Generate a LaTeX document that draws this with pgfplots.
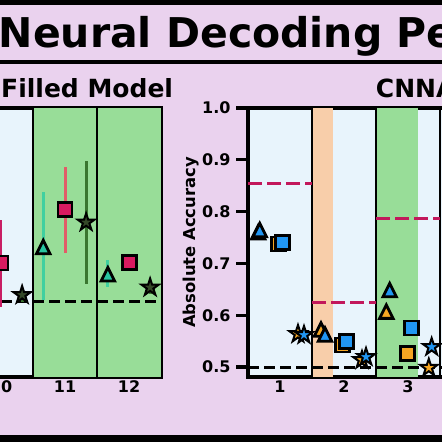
\documentclass[border=0pt]{standalone}
\usepackage{pgfplots}
\pgfplotsset{compat=1.18}
\usepackage{fontspec}
\setmainfont{DejaVu Sans}
\definecolor{lilac}{RGB}{234,210,238}
\definecolor{lblue}{RGB}{232,244,252}
\definecolor{bgreen}{RGB}{152,221,152}
\definecolor{borange}{RGB}{248,206,170}
\definecolor{mblue}{RGB}{33,150,243}
\definecolor{morange}{RGB}{245,166,35}
\definecolor{rdash}{RGB}{194,24,91}
\definecolor{mpink}{RGB}{216,27,96}
\definecolor{mteal}{RGB}{40,196,160}
\definecolor{eteal}{RGB}{64,208,160}
\definecolor{esalmon}{RGB}{226,92,104}
\definecolor{ecrimson}{RGB}{200,30,100}
\definecolor{egreen}{RGB}{58,118,48}
\definecolor{mstarc}{RGB}{52,72,40}

\pgfdeclareplotmark{mtri}{%
 \pgfpathmoveto{\pgfpoint{0pt}{\pgfplotmarksize}}%
 \pgfpathlineto{\pgfpoint{-\pgfplotmarksize}{-\pgfplotmarksize}}%
 \pgfpathlineto{\pgfpoint{\pgfplotmarksize}{-\pgfplotmarksize}}%
 \pgfpathclose\pgfusepathqfillstroke}
\pgfdeclareplotmark{mstar}{%
 \pgfpathmoveto{\pgfpoint{0pt}{\pgfplotmarksize}}%
 \pgfpathlineto{\pgfpoint{-0.2245\pgfplotmarksize}{0.309\pgfplotmarksize}}%
 \pgfpathlineto{\pgfpoint{-0.951\pgfplotmarksize}{0.309\pgfplotmarksize}}%
 \pgfpathlineto{\pgfpoint{-0.3633\pgfplotmarksize}{-0.118\pgfplotmarksize}}%
 \pgfpathlineto{\pgfpoint{-0.588\pgfplotmarksize}{-0.809\pgfplotmarksize}}%
 \pgfpathlineto{\pgfpoint{0pt}{-0.382\pgfplotmarksize}}%
 \pgfpathlineto{\pgfpoint{0.588\pgfplotmarksize}{-0.809\pgfplotmarksize}}%
 \pgfpathlineto{\pgfpoint{0.3633\pgfplotmarksize}{-0.118\pgfplotmarksize}}%
 \pgfpathlineto{\pgfpoint{0.951\pgfplotmarksize}{0.309\pgfplotmarksize}}%
 \pgfpathlineto{\pgfpoint{0.2245\pgfplotmarksize}{0.309\pgfplotmarksize}}%
 \pgfpathclose\pgfusepathqfillstroke}

\pgfplotsset{
 tri/.style={only marks, mark=mtri, mark size=6.7pt, mark options={draw=black, fill=#1, line width=2.8pt, line join=miter, solid}},
 sq/.style={only marks, mark=square*, mark size=7pt, mark options={draw=black, fill=#1, line width=2.8pt, solid}},
 st/.style={only marks, mark=mstar, mark size=9pt, mark options={draw=black, fill=#1, line width=2pt, line join=miter, solid}},
 eb/.style={error bars/.cd, y dir=both, y explicit, error mark=none, error bar style={line width=3pt, color=#1, solid}},
 myaxis/.style={
  scale only axis, clip=false,
  ymin=0.4807, ymax=1.0,
  axis background/.style={fill=lblue},
  axis line style={line width=3.5pt},
  tick align=outside, major tick length=12pt,
  xtick style={draw=none},
  ytick style={line width=3.2pt, black},
  ytick pos=left,
  /pgf/number format/assume math mode=true,
  ticklabel style={font=\fontsize{16}{18}\selectfont\bfseries},
  xticklabel style={yshift=12pt},
  yticklabel style={xshift=-2pt},
 },
}

\begin{document}
\begin{tikzpicture}[x=1pt,y=1pt]
\useasboundingbox (0,0) rectangle (442,442);
\clip (0,0) rectangle (442,442);
\fill[lilac] (0,0) rectangle (442,442);
\fill[black] (0,437) rectangle (442,442);
\fill[black] (0,378) rectangle (442,382);
\fill[black] (0,0) rectangle (442,7);
\coordinate (LP) at (-31,65);
\coordinate (RP) at (248,65);
\node[anchor=base west, inner sep=0pt, font=\fontsize{41}{45}\selectfont\bfseries] at (-1.5,394) {Neural Decoding Performance};
\node[anchor=base west, inner sep=0pt, font=\fontsize{25}{28}\selectfont\bfseries] at (1,344) {Filled Model};
\node[anchor=base west, inner sep=0pt, font=\fontsize{25}{28}\selectfont\bfseries] at (375.7,344) {CNNAttention Model};
\node[anchor=base, rotate=90, inner sep=0pt, font=\fontsize{16.4}{18}\selectfont\bfseries] at (195,199.5) {Absolute Accuracy};

% ---------- left panel ----------
\begin{axis}[myaxis, at={(LP)}, anchor=south west, width=192pt, height=269pt,
  xmin=9.5, xmax=12.5, xtick={10,11,12}, xticklabels={10,11,12}, ytick=\empty]
\fill[bgreen] (axis cs:10.5,0.4807) rectangle (axis cs:12.5,1.0);
\draw[line width=2.5pt] (axis cs:10.5,0.4807) -- (axis cs:10.5,1.0);
\draw[line width=2.5pt] (axis cs:11.5,0.4807) -- (axis cs:11.5,1.0);
\addplot[black, line width=3pt, dash pattern=on 11pt off 5pt] coordinates {(9.5,0.6274) (12.5,0.6274)};
% triangles (teal)
\addplot[tri=mteal, eb=eteal] coordinates {(10.66,0.7317) += (0,0.1061) -= (0,0.1024) (11.67,0.679) += (0,0.0276) -= (0,0.024)};
% squares (pink)
\addplot[sq=mpink, eb=ecrimson] coordinates {(10,0.7008) += (0,0.083) -= (0,0.085)};
\addplot[sq=mpink, eb=esalmon] coordinates {(11,0.804) += (0,0.082) -= (0,0.0847) (12.01,0.7021) += (0,0.005) -= (0,0.005)};
% stars (dark green)
\addplot[st=mstarc, eb=egreen] coordinates {(10.33,0.639) += (0,0.014) -= (0,0.014) (11.33,0.7793) += (0,0.1184) -= (0,0.1191) (12.33,0.6535) += (0,0.012) -= (0,0.012)};
\end{axis}

% ---------- right panel ----------
\begin{axis}[myaxis, at={(RP)}, anchor=south west, width=256pt, height=269pt,
  xmin=0.5, xmax=4.5, xtick={1,2,3,4}, xticklabels={1,2,3,4},
  ytick={0.5,0.6,0.7,0.8,0.9,1.0}, yticklabels={0.5,0.6,0.7,0.8,0.9,1.0}]
\fill[borange] (axis cs:1.5,0.4807) rectangle (axis cs:1.828,1.0);
\fill[bgreen] (axis cs:2.5,0.4807) rectangle (axis cs:3.156,1.0);
\draw[line width=2.5pt] (axis cs:1.5,0.4807) -- (axis cs:1.5,1.0);
\draw[line width=2.5pt] (axis cs:2.5,0.4807) -- (axis cs:2.5,1.0);
\draw[line width=2.5pt] (axis cs:3.5,0.4807) -- (axis cs:3.5,1.0);
\addplot[rdash, line width=3pt, dash pattern=on 14pt off 5pt] coordinates {(0.5,0.855) (1.5,0.855)};
\addplot[rdash, line width=3pt, dash pattern=on 14pt off 5pt] coordinates {(1.5,0.624) (2.5,0.624)};
\addplot[rdash, line width=3pt, dash pattern=on 14pt off 5pt] coordinates {(2.5,0.786) (3.5,0.786)};
\addplot[black, line width=3pt, dash pattern=on 11pt off 5pt] coordinates {(0.5,0.5) (4.5,0.5)};
% orange series
\addplot[tri=morange] coordinates {(0.66,0.760) (1.641,0.5724) (2.661,0.6068)};
\addplot[sq=morange] coordinates {(0.977,0.7375) (1.977,0.5425) (2.997,0.5264)};
\addplot[st=morange] coordinates {(1.281,0.5637) (2.281,0.5135) (3.325,0.4985)};
% blue series
\addplot[tri=mblue] coordinates {(0.683,0.7645) (1.703,0.5627) (2.714,0.6486)};
\addplot[sq=mblue] coordinates {(1.039,0.7407) (2.039,0.5492) (3.052,0.5753)};
\addplot[st=mblue] coordinates {(1.375,0.5618) (2.344,0.5193) (3.370,0.5386)};
\end{axis}
\end{tikzpicture}
\end{document}
